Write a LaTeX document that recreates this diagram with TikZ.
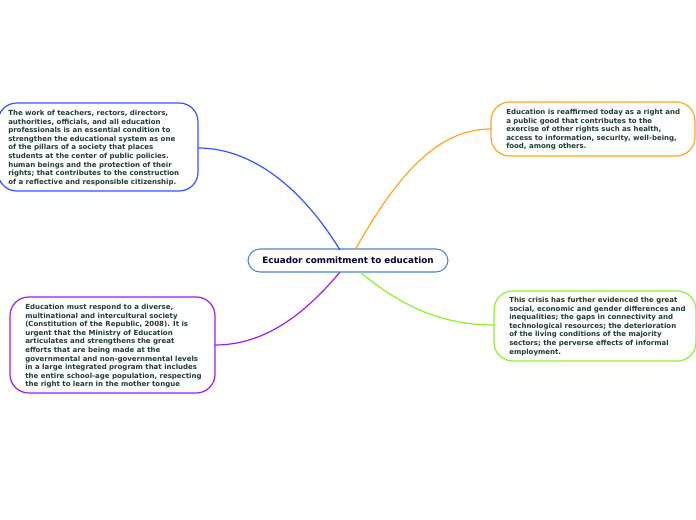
\documentclass[tikz,border=0pt]{standalone}
\usepackage{fontspec}
\setmainfont{DejaVu Sans}
\begin{document}
\begin{tikzpicture}[x=0.75pt,y=-0.75pt,
  box/.style={draw,line width=0.9pt,rounded corners=14pt,anchor=north west,inner sep=0pt},
  txt/.style={anchor=north west,align=left,inner sep=0pt,text=txtc,font=\fontsize{5.25pt}{6.45pt}\selectfont\bfseries},
  conn/.style={line width=0.9pt}]
\definecolor{txtc}{HTML}{1F3D2E}
\definecolor{cblue}{HTML}{3355FF}
\definecolor{corange}{HTML}{FFA41C}
\definecolor{cpurple}{HTML}{9B1CF0}
\definecolor{cgreen}{HTML}{8EF02A}
\definecolor{ccent}{HTML}{4A86C8}
\useasboundingbox (0,0) rectangle (696,520);
% center
\draw[ccent,line width=0.8pt,rounded corners=9pt,fill=white] (248,249) rectangle (448,272);
\node[font=\fontsize{6.6pt}{8pt}\selectfont\bfseries,text=black!80!blue] (c) at (348,260.5) {Ecuador commitment to education};
\coordinate (cb1) at (340,250);\coordinate (co1) at (355,250);
\coordinate (cp1) at (340,272);\coordinate (cg1) at (360,272);
% boxes
\draw[cblue,line width=0.9pt,rounded corners=14pt] (-2,103) rectangle (198,191);
\coordinate (tl) at (198,148);
\node[txt] (tlt) at (8,110) {The work of teachers, rectors, directors,\\authorities, officials, and all education\\professionals is an essential condition to\\strengthen the educational system as one\\of the pillars of a society that places\\students at the center of public policies.\\human beings and the protection of their\\rights; that contributes to the construction\\of a reflective and responsible citizenship.};
\draw[corange,line width=0.9pt,rounded corners=14pt] (491,102) rectangle (695,156);
\coordinate (tr) at (491,129);
\node[txt] (trt) at (506,109) {Education is reaffirmed today as a right and\\a public good that contributes to the\\exercise of other rights such as health,\\access to information, security, well-being,\\food, among others.};
\draw[cpurple,line width=0.9pt,rounded corners=14pt] (10,297) rectangle (215,393);
\coordinate (bl) at (215,345);
\node[txt] (blt) at (25,304) {Education must respond to a diverse,\\multinational and intercultural society\\(Constitution of the Republic, 2008). It is\\urgent that the Ministry of Education\\articulates and strengthens the great\\efforts that are being made at the\\governmental and non-governmental levels\\in a large integrated program that includes\\the entire school-age population, respecting\\the right to learn in the mother tongue};
\draw[cgreen,line width=0.9pt,rounded corners=14pt] (494,291) rectangle (696,361);
\coordinate (br) at (494,325);
\node[txt] (brt) at (509,297) {This crisis has further evidenced the great\\social, economic and gender differences and\\inequalities; the gaps in connectivity and\\technological resources; the deterioration\\of the living conditions of the majority\\sectors; the perverse effects of informal\\employment.};
% connectors
\draw[conn,cblue] (cb1) .. controls (300,185) and (250,148) .. (tl);
\draw[conn,corange] (co1) .. controls (400,170) and (440,129) .. (tr);
\draw[conn,cpurple] (cp1) .. controls (300,320) and (260,345) .. (bl);
\draw[conn,cgreen] (cg1) .. controls (400,305) and (440,325) .. (br);
\end{tikzpicture}
\end{document}
